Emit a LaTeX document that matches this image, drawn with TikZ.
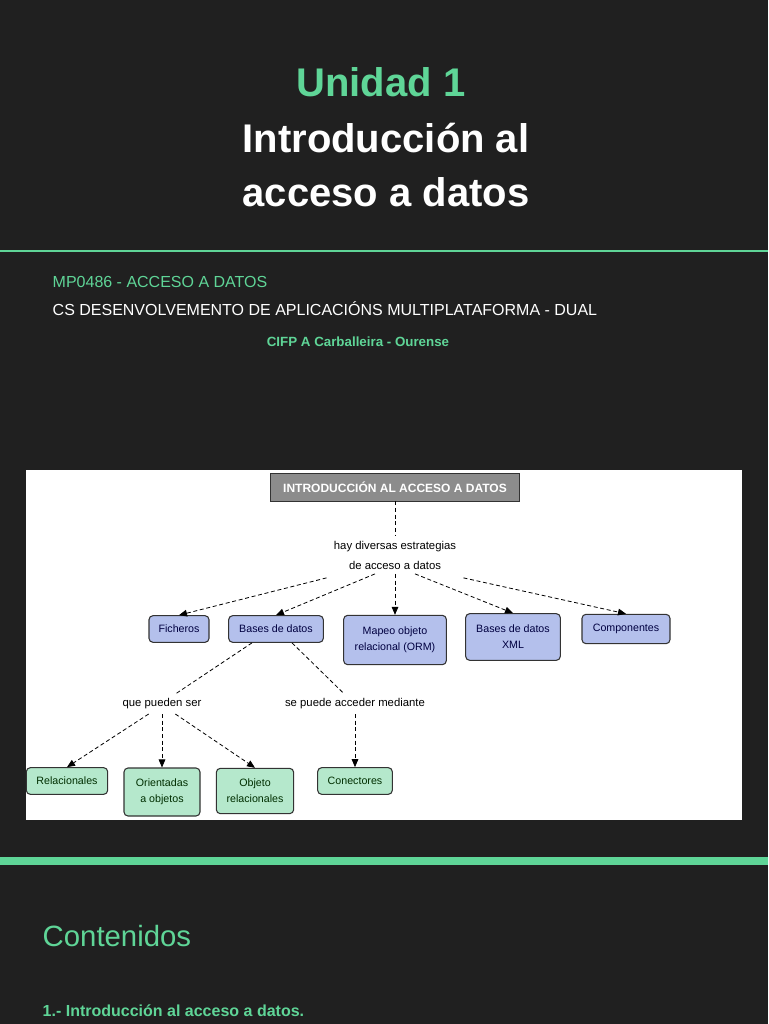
\documentclass[tikz,border=0pt]{standalone}
\usepackage{fontspec}
\setmainfont{Liberation Sans}
\newfontfamily\rob{Liberation Sans}
\usetikzlibrary{arrows.meta}
\definecolor{bg}{HTML}{202020}
\definecolor{grn}{HTML}{5FD597}
\definecolor{bluebox}{HTML}{B4C0EC}
\definecolor{greenbox}{HTML}{B5E8CC}
\definecolor{titlebox}{HTML}{8C8C8C}
\begin{document}
\begin{tikzpicture}[x=0.75pt,y=-0.75pt,
  bbox/.style={draw=black!80,line width=0.8pt,rounded corners=3pt,fill=bluebox,font=\fontsize{8}{12}\selectfont\color{black!75!blue},align=center,inner sep=0pt},
  gbox/.style={bbox,fill=greenbox,text=black!70!green!60!black},
  lbl/.style={font=\fontsize{8.5}{15}\selectfont,align=center,text=black},
  conn/.style={dashed,dash pattern=on 3pt off 2pt,line width=0.6pt,-{Triangle[length=6pt,width=5pt]}},
  plain/.style={dashed,dash pattern=on 3pt off 2pt,line width=0.6pt}]
\useasboundingbox (0,0) rectangle (768,1024);
\fill[bg] (0,0) rectangle (768,1024);
\node[font=\rob\bfseries\fontsize{30}{36}\selectfont,text=grn] (u) at (381,82) {Unidad 1};
\node[font=\rob\bfseries\fontsize{30}{41}\selectfont,text=white,align=center] (t) at (386,165) {Introducción al\\acceso a datos};
\draw[grn,line width=1.5pt] (0,251) -- (768,251);
\node[font=\rob\fontsize{12}{14}\selectfont,text=grn,anchor=west] (mp) at (48,282) {MP0486 - ACCESO A DATOS};
\node[font=\rob\fontsize{12}{14}\selectfont,text=white,anchor=west] (cs) at (48,309) {CS DESENVOLVEMENTO DE APLICACIÓNS MULTIPLATAFORMA - DUAL};
\node[font=\rob\bfseries\fontsize{10}{12}\selectfont,text=grn] (ci) at (358,342) {CIFP A Carballeira - Ourense};
\fill[white] (26,470) rectangle (742,820);
\node[draw=black!80,fill=titlebox,minimum width=187pt,minimum height=21pt,font=\bfseries\fontsize{9}{11}\selectfont,text=white,inner sep=0pt] (T) at (395,487) {INTRODUCCIÓN AL ACCESO A DATOS};
\node[lbl] (h) at (395,555) {hay diversas estrategias\\de acceso a datos};
\node[bbox,minimum width=45pt,minimum height=20pt] (f) at (179,629) {Ficheros};
\node[bbox,minimum width=71pt,minimum height=20pt] (b) at (276,629) {Bases de datos};
\node[bbox,minimum width=77pt,minimum height=37pt] (m) at (395,640) {Mapeo objeto\\relacional (ORM)};
\node[bbox,minimum width=71pt,minimum height=35pt] (x) at (513,637) {Bases de datos\\XML};
\node[bbox,minimum width=66pt,minimum height=22pt] (c) at (626,629) {Componentes};
\node[lbl] (q) at (162,704) {que pueden ser};
\node[lbl] (s) at (355,704) {se puede acceder mediante};
\node[gbox,minimum width=61pt,minimum height=20pt] (r) at (67,781) {Relacionales};
\node[gbox,minimum width=57pt,minimum height=36pt] (o) at (162,792) {Orientadas\\a objetos};
\node[gbox,minimum width=58pt,minimum height=34pt] (ob) at (255,791) {Objeto\\relacionales};
\node[gbox,minimum width=56pt,minimum height=20pt] (co) at (355,781) {Conectores};
\draw[plain] (T.south) -- (h.north);
\draw[conn] ([xshift=-2pt,yshift=-3pt]h.south west) -- (f.north);
\draw[conn] ([xshift=-15pt]h.south) -- (b.north);
\draw[conn] (h.south) -- (m.north);
\draw[conn] ([xshift=15pt]h.south) -- (x.north);
\draw[conn] ([xshift=2pt,yshift=-3pt]h.south east) -- (c.north);
\draw[plain] ([xshift=-18pt]b.south) -- ([xshift=10pt]q.north);
\draw[plain] ([xshift=12pt]b.south) -- ([xshift=-8pt]s.north);
\draw[conn] ([xshift=-10pt]q.south) -- (r.north);
\draw[conn] (q.south) -- (o.north);
\draw[conn] ([xshift=10pt]q.south) -- (ob.north);
\draw[conn] (s.south) -- (co.north);
\fill[grn] (0,857) rectangle (768,865);
\node[font=\rob\fontsize{22}{26}\selectfont,text=grn,anchor=west] (k) at (38,936) {Contenidos};
\node[font=\rob\bfseries\fontsize{12}{14}\selectfont,text=grn,anchor=west] (i) at (38,1011) {1.- Introducción al acceso a datos.};
\end{tikzpicture}
\end{document}
